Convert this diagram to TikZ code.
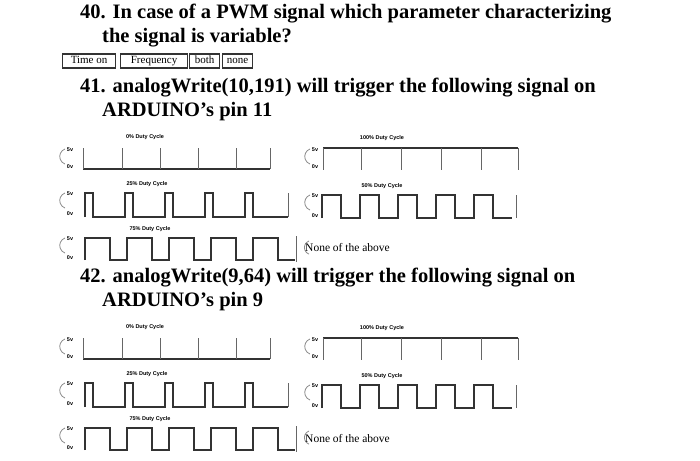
\documentclass[tikz,border=0pt]{standalone}
\usepackage{fontspec}
\setmainfont{Liberation Serif}
\setsansfont{Liberation Sans}
\begin{document}
\begin{tikzpicture}[x=1pt,y=-1pt,
  q/.style={anchor=west,inner sep=0pt,font=\fontsize{20.5}{22}\selectfont\bfseries},
  opt/.style={draw,line width=1.1pt,black!80,text=black,inner sep=0pt,font=\fontsize{11}{12}\selectfont,text height=8pt,text depth=2.5pt,minimum height=14pt,anchor=west},
  captxt/.style={inner sep=0pt,font=\sffamily\fontsize{5.5}{6}\selectfont\bfseries},
  vl/.style={inner sep=0pt,font=\sffamily\fontsize{5.5}{6}\selectfont\bfseries},
  wave/.style={line width=1.6pt,black!80},
  thinln/.style={line width=0.8pt,black!60}]
\useasboundingbox (0,0) rectangle (700,460);
\fill[white] (0,0) rectangle (700,460);
\node[q] (q40a) at (80,14) {40. In case of a PWM signal which parameter characterizing};
\node[q] (q40b) at (102,38) {the signal is variable?};
\node[opt,minimum width=53pt] (o1) at (62,61) {Time on};
\node[opt,minimum width=67pt] (o2) at (120,61) {Frequency};
\node[opt,minimum width=30pt] (o3) at (189,61) {both};
\node[opt,minimum width=30pt] (o4) at (222,61) {none};
\node[q] (q41a) at (80,88) {41. analogWrite(10,191) will trigger the following signal on};
\node[q] (q41b) at (102,112) {ARDUINO's pin 11};
\node[q] (q42a) at (80,278) {42. analogWrite(9,64) will trigger the following signal on};
\node[q] (q42b) at (102,302) {ARDUINO's pin 9};
\foreach \dy in {0,190}{
\begin{scope}[shift={(0,\dy)}]
 \foreach \xx/\yt/\yb in {70/150/167,315/150/167,70/194/214,315/196/216,70/239/258}{
   \node[vl] at (\xx,\yt) {5v}; \node[vl] at (\xx,\yb) {0v};
   \draw[thinln,black!45] (\xx-5,\yt-1) arc (250:110:8);
 }
 \node[captxt] at (145,137) {0\% Duty Cycle};
 \draw[wave,line width=1.2pt] (83,169) -- (270,169);
 \foreach \t in {83,122,160,198,236,270} \draw[thinln] (\t,148) -- (\t,169);
 \node[captxt] at (382,138) {100\% Duty Cycle};
 \draw[wave,line width=1.2pt] (323,148) -- (518,148);
 \foreach \t in {323,361,401,441,481,518} \draw[thinln] (\t,148) -- (\t,170);
 \node[captxt] at (147,184) {25\% Duty Cycle};
 \draw[wave] (85,217) \foreach \i in {0,...,4}{ -- ++(0,-24) -- ++(8,0) -- ++(0,24) -- ++(32,0)} -- ++(3,0);
 \draw[thinln] (288,193) -- (288,217);
 \node[captxt] at (382,186) {50\% Duty Cycle};
 \draw[wave] (322,218) \foreach \i in {0,...,4}{ -- ++(0,-23) -- ++(19,0) -- ++(0,23) -- ++(19,0)};
 \draw[thinln] (516,195) -- (516,218);
 \node[captxt] at (150,229) {75\% Duty Cycle};
 \draw[wave] (85,260) \foreach \i in {0,...,4}{ -- ++(0,-22) -- ++(25,0) -- ++(0,22) -- ++(17,0)};
 \draw[thinln] (296,236) -- (296,262);
 \draw[thinln,black!45] (309,241) arc (250:110:7);
 \node[anchor=west,inner sep=0pt,font=\fontsize{11.5}{12}\selectfont] at (305,248) {None of the above};
\end{scope}}
\end{tikzpicture}
\end{document}
